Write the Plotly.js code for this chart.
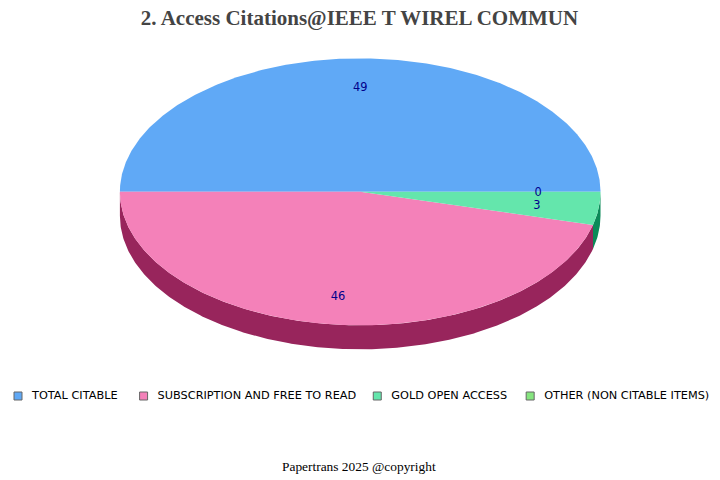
<!DOCTYPE html>
<html>
<head>
<meta charset="utf-8">
<script src="https://cdn.plot.ly/plotly-3.0.1.min.js"></script>
<style>html,body{margin:0;padding:0;background:#fff}#chart{width:720px;height:480px}</style>
</head>
<body>
<div id="chart"></div>
<script>
// Data
const categories = ["TOTAL CITABLE", "SUBSCRIPTION AND FREE TO READ", "GOLD OPEN ACCESS", "OTHER (NON CITABLE ITEMS)"];
const values = [49.99, 46.0, 3.99, 0.0];
const topColors = ["#60a9f6", "#f481b9", "#64e6ac", "#86e57f"];
const sideColors = ["#2a6fb8", "#98255c", "#0b8a58", "#3f9a3a"];
const titleText = "2. Access Citations@IEEE T WIREL COMMUN";
const footerText = "Papertrans 2025 @copyright";

// Geometry of the tilted pie
const cx = 360.2, cy = 191.8, rx = 240.3, ry = 133.5, depth = 24;
const labelRx = 178, labelRy = 105;
const labelDrop = 1.2;
const legendY = 396, legendStart = 14, swatchToText = 18;
const legendGaps = [22, 17, 19, 18];
const legendFontSize = 11.3;

const total = values.reduce((a, b) => a + b, 0);
const rad = d => d * Math.PI / 180;
const px = a => cx + rx * Math.cos(rad(a));
const py = a => cy - ry * Math.sin(rad(a));

function arc(a0, a1) {
  const n = Math.max(1, Math.ceil(Math.abs(a1 - a0) * 2));
  const out = [];
  for (let i = 0; i <= n; i++) out.push(a0 + (a1 - a0) * i / n);
  return out;
}

let cursor = 0;
const slices = values.map(v => {
  const s = { start: cursor, end: cursor + v / total * 360 };
  cursor = s.end;
  return s;
});

const traces = [];

// Side walls (only the lower half of the rim, angles 180..360, shows)
slices.forEach((s, i) => {
  const a0 = Math.max(s.start, 180), a1 = s.end;
  if (a1 <= a0) return;
  const angs = arc(a0, a1);
  const xs = angs.map(px).concat(angs.slice().reverse().map(px), [px(a0)]);
  const ys = angs.map(a => py(a) + depth).concat(angs.slice().reverse().map(py), [py(a0) + depth]);
  traces.push({ type: "scatter", mode: "lines", x: xs, y: ys, fill: "toself",
    fillcolor: sideColors[i], line: { width: 0 }, hoverinfo: "skip", showlegend: false });
});

// Top faces
slices.forEach((s, i) => {
  if (s.end <= s.start) return;
  const angs = arc(s.start, s.end);
  traces.push({ type: "scatter", mode: "lines",
    x: [cx].concat(angs.map(px), [cx]), y: [cy].concat(angs.map(py), [cy]),
    fill: "toself", fillcolor: topColors[i], line: { width: 0 },
    name: categories[i], hoverinfo: "name", showlegend: false });
});

// Value labels
traces.push({ type: "scatter", mode: "text",
  x: slices.map(s => cx + labelRx * Math.cos(rad((s.start + s.end) / 2))),
  y: slices.map(s => cy + labelDrop - labelRy * Math.sin(rad((s.start + s.end) / 2))),
  text: values.map(v => String(Math.floor(v))),
  textposition: "middle center",
  textfont: { family: "DejaVu Sans", size: 11.4, color: "#00008b" },
  hoverinfo: "skip", showlegend: false });

// Legend row
const ctx = document.createElement("canvas").getContext("2d");
ctx.font = legendFontSize + "px 'DejaVu Sans'";
let lx = legendStart;
const swatchX = [], textX = [];
categories.forEach((c, i) => {
  swatchX.push(lx + 4);
  textX.push(lx + swatchToText);
  lx += swatchToText + ctx.measureText(c).width + legendGaps[i];
});
traces.push({ type: "scatter", mode: "markers", x: swatchX, y: categories.map(() => legendY),
  marker: { symbol: "square", size: 8, color: topColors, line: { color: "#666666", width: 1 } },
  hoverinfo: "skip", showlegend: false });
traces.push({ type: "scatter", mode: "text", x: textX, y: categories.map(() => legendY),
  text: categories, textposition: "middle right",
  textfont: { family: "DejaVu Sans", size: legendFontSize, color: "#000000" },
  hoverinfo: "skip", showlegend: false });

const layout = {
  width: 720, height: 480,
  margin: { l: 0, r: 0, t: 0, b: 0 },
  paper_bgcolor: "#ffffff", plot_bgcolor: "#ffffff",
  showlegend: false,
  xaxis: { range: [0, 720], visible: false, fixedrange: true },
  yaxis: { range: [480, 0], visible: false, fixedrange: true },
  title: { text: "<b>" + titleText + "</b>", x: 0.4993, xanchor: "center", y: 0.9625, yanchor: "middle",
    font: { family: "Liberation Serif", size: 21, color: "#444444" } },
  annotations: [{ text: footerText, xref: "paper", yref: "paper", x: 0.499, y: 0.029, yanchor: "middle",
    showarrow: false, font: { family: "Liberation Serif", size: 13.4, color: "#000000" } }]
};

Plotly.newPlot("chart", traces, layout, { displayModeBar: false, responsive: false, staticPlot: true });
</script>
</body>
</html>
